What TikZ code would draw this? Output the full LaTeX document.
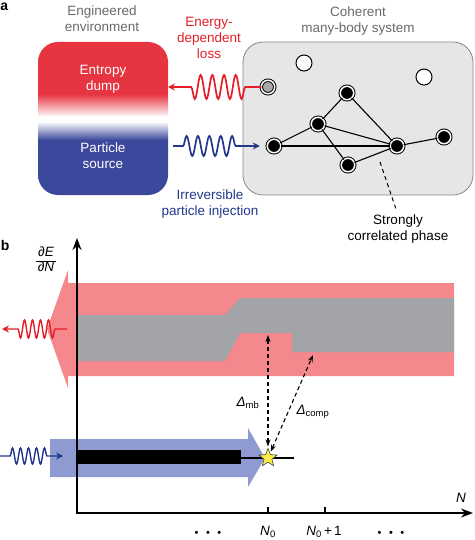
\documentclass[tikz,border=0pt]{standalone}
\usepackage{fontspec}
\setmainfont{Liberation Sans}
\usetikzlibrary{arrows.meta,decorations.pathmorphing,shapes.geometric}
\definecolor{ered}{RGB}{230,52,64}
\definecolor{eblue}{RGB}{60,72,155}
\definecolor{wavered}{RGB}{228,30,40}
\definecolor{waveblue}{RGB}{35,55,140}
\definecolor{txtgray}{RGB}{105,105,108}
\definecolor{boxgray}{RGB}{230,230,230}
\definecolor{boxedge}{RGB}{135,135,135}
\definecolor{pinkband}{RGB}{244,136,141}
\definecolor{grayband}{RGB}{162,164,167}
\definecolor{bluearrow}{RGB}{143,154,208}
\definecolor{starfill}{RGB}{250,235,70}
\definecolor{lostgray}{RGB}{168,168,168}
\pgfdeclareverticalshading{envshade}{100bp}{color(0bp)=(eblue); color(43bp)=(eblue); color(49bp)=(white); color(50.5bp)=(white); color(58bp)=(ered); color(100bp)=(ered)}
\begin{document}
\begin{tikzpicture}[x=1pt,y=-1pt,
  every node/.style={inner sep=0pt, outer sep=0pt},
  font=\fontsize{13.5}{16}\selectfont,
  lbl/.style={align=center, anchor=north},
  graytxt/.style={lbl, text=txtgray},
  envbox/.style={rounded corners=20pt, minimum width=130pt, minimum height=153pt, shade, shading=envshade},
  sysbox/.style={rounded corners=20pt, minimum width=230pt, minimum height=153pt, fill=boxgray, draw=boxedge, line width=0.8pt},
  site/.style={circle, minimum size=13.5pt, fill=black, draw=black, line width=1pt, double=white, double distance=1.5pt},
  lostsite/.style={site, fill=lostgray},
  emptysite/.style={circle, minimum size=16pt, fill=white, draw=black, line width=1pt},
  bond/.style={line width=1.1pt},
  wavetip/.style={-{Stealth[length=7pt,width=7pt,inset=2.5pt]}},
  redwave/.style={wavered, line width=1.7pt, wavetip, decorate},
  bluewave/.style={waveblue, line width=1.7pt, wavetip, decorate},
  dasharrow/.style={line width=1.1pt, dash pattern=on 4pt off 3pt, {Stealth[length=7pt,width=5pt]}-{Stealth[length=7pt,width=5pt]}},
  panellabel/.style={anchor=base west, font=\bfseries\fontsize{14}{16}\selectfont},
  sublbl/.style={anchor=base}
]
\useasboundingbox (0,0) rectangle (474,540);

% ---------------- panel a ----------------
\node[panellabel] (pa) at (0.5,11) {a};
\node[graytxt] (engtxt) at (102,5.5) {Engineered\\environment};
\node[graytxt] (cohtxt) at (358,6.5) {Coherent\\many-body system};
\node[lbl, text=wavered] (losstxt) at (209,17.5) {Energy-\\dependent\\loss};
\node[lbl, text=waveblue] (injtxt) at (210,189.5) {Irreversible\\particle injection};

\node[envbox] (env) at (103,118.5) {};
\node[lbl, text=white] (dumptxt) at (103,65) {Entropy\\dump};
\node[lbl, text=white] (srctxt) at (103,143) {Particle\\source};

\node[sysbox] (sys) at (358,118.5) {};

\node[site] (s1) at (274,146) {};
\node[site] (s2) at (318,124) {};
\node[site] (s3) at (347,93) {};
\node[site] (s4) at (348,165) {};
\node[site] (s5) at (397,146) {};
\node[site] (s6) at (444,137) {};
\node[emptysite] (h1) at (304,63) {};
\node[emptysite] (h2) at (424,77) {};
\node[lostsite] (g1) at (268,87) {};

\draw[bond] (s1) -- (s2);
\draw[bond] (s1) -- (s5);
\draw[bond] (s2) -- (s3);
\draw[bond] (s2) -- (s5);
\draw[bond] (s2) -- (s4);
\draw[bond] (s3) -- (s5);
\draw[bond] (s4) -- (s5);
\draw[bond] (s5) -- (s6);

\node[lbl] (phasetxt) at (398,215) {Strongly\\correlated phase};
\coordinate (phasestart) at (380,162);
\draw[line width=1pt, dash pattern=on 4pt off 3.5pt, shorten >=7pt] (phasestart) -- (phasetxt.north);

\draw[redwave, decoration={snake, amplitude=12pt, segment length=11.7pt, pre length=16pt, post length=19pt}] (g1) -- (env.east |- g1);
\draw[bluewave, shorten <=5pt, shorten >=7.5pt, decoration={snake, amplitude=10pt, segment length=11.4pt, pre length=15pt, post length=27pt}] (env.east |- s1) -- (s1);

% ---------------- panel b ----------------
\node[panellabel] (pb) at (1,250) {b};
\node[font=\fontsize{13.5}{15}\selectfont] (dedn) at (46,261) {\renewcommand{\arraystretch}{0.95}\begin{tabular}{@{\,}c@{\,}}\textit{∂E}\\\hline\textit{∂N}\end{tabular}};

% pink (loss) arrow
\fill[pinkband] (454,283) -- (68,283) -- (68,270) -- (47,329) -- (68,388) -- (68,376) -- (454,376) -- cycle;
% gray band
\fill[grayband] (77,315) -- (225,315) -- (240,298) -- (454,298) -- (454,352) -- (292,352) -- (292,333) -- (240,333) -- (225,361) -- (77,361) -- cycle;
% blue (injection) arrow
\fill[bluearrow] (50,439) -- (248,439) -- (248,428) -- (265,458) -- (248,487) -- (248,477) -- (50,477) -- cycle;
% black bar and line
\fill[black] (77,450) rectangle (241,464);
\draw[line width=2pt] (241,458) -- (294,458);

% axes
\draw[line width=1.5pt, {Stealth[length=12pt,width=9pt]}-{Stealth[length=12pt,width=9pt]}] (77,238) -- (77,513) -- (473,513);
\draw[line width=1.5pt] (268,507) -- (268,513);
\draw[line width=1.5pt] (325,507) -- (325,513);
\node[sublbl] (naxis) at (461,502) {\textit{N}};
\node[sublbl] (n0) at (268,535) {\textit{N}\textsubscript{0}};
\node[sublbl] (n1) at (324,535) {\textit{N}\textsubscript{0}\,+\,1};
\node[font=\fontsize{11}{12}\selectfont] (dotsl) at (208,534) {•\hspace{7.5pt}•\hspace{7.5pt}•};
\node[font=\fontsize{11}{12}\selectfont] (dotsr) at (391,534) {•\hspace{7.5pt}•\hspace{7.5pt}•};

% star and gaps
\node[star, star points=5, star point ratio=2.3, minimum size=19pt, fill=starfill, draw=black!75, line width=0.6pt] (star) at (268,458) {};
\coordinate (mbtop) at (268,335);
\coordinate (comptop) at (313,355);
\draw[dasharrow, shorten <=2pt] (star) -- (mbtop);
\draw[dasharrow, shorten <=2pt] (star) -- (comptop);
\node (dmb) at (248,403) {\textit{Δ}\textsubscript{mb}};
\node (dcomp) at (313,412) {\textit{Δ}\textsubscript{comp}};

% waves in panel b
\coordinate (rwstart) at (67,329);
\coordinate (rwend) at (2,329);
\draw[redwave, line width=1.4pt, decoration={snake, amplitude=9pt, segment length=8pt, pre length=12pt, post length=13pt}] (rwstart) -- (rwend);
\coordinate (bwstart) at (0,456);
\coordinate (bwend) at (63,456);
\draw[bluewave, line width=1.4pt, decoration={snake, amplitude=8pt, segment length=8pt, pre length=10pt, post length=13pt}] (bwstart) -- (bwend);
\end{tikzpicture}
\end{document}
